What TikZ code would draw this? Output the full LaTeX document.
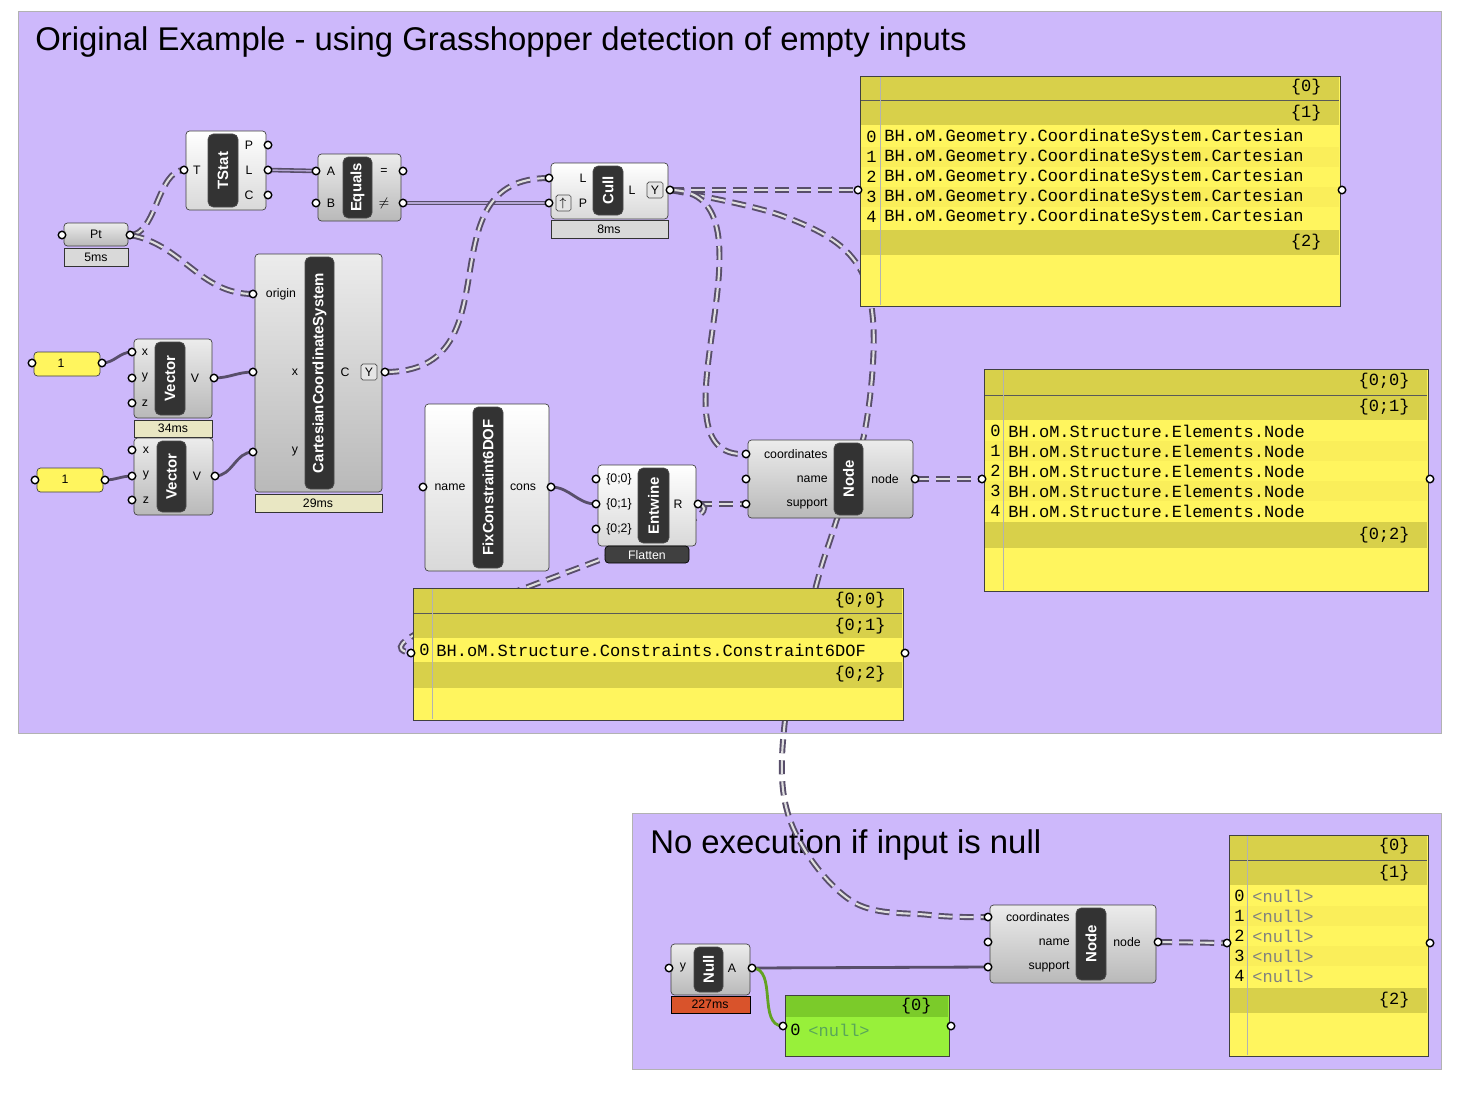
\documentclass[tikz,border=0pt]{standalone}
\usepackage{fontspec}
\setmainfont{Liberation Sans}
\newfontfamily\monofont{Liberation Mono}
\usetikzlibrary{calc}
\definecolor{grp}{HTML}{CDB8FB}
\definecolor{wirec}{HTML}{584E6A}
\definecolor{pnl}{HTML}{FFF55E}
\definecolor{pnlb}{HTML}{FAEE5A}
\definecolor{pnlh}{HTML}{D8D04A}
\definecolor{grn}{HTML}{98F03A}
\definecolor{grnh}{HTML}{7BCB2A}
\definecolor{hot}{HTML}{D9532B}
\tikzset{grpbox/.style = {fill=grp, draw=gray!60, line width=0.4pt},
         dark/.style = {rounded corners=2pt, draw=gray!50!black, top color=gray!15, bottom color=gray!55},
         light/.style = {rounded corners=2pt, draw=gray!50!black, top color=white, bottom color=gray!30},
         bar/.style = {rounded corners=3pt, fill=black!80, draw=gray!60!black},
         bartxt/.style = {rotate=90, text=white, font=\bfseries\fontsize{8.5}{9}\selectfont},
         lbl/.style = {font=\fontsize{7}{8}\selectfont, inner sep=0pt},
         tim/.style = {draw=gray!40!black, fill=gray!30, font=\fontsize{6.5}{7}\selectfont},
         port/.style = {circle, draw=black, fill=white, line width=0.8pt, inner sep=0pt, minimum size=0.15cm},
         pn/.style = {draw=gray!50!black, fill=pnl},
         ptxt/.style = {font=\monofont\fontsize{9.7}{10}\selectfont, inner sep=0pt, anchor=west},
         wire/.style = {draw=wirec, line width=1.6pt},
         lwire/.style = {draw=wirec, line width=0.9pt, double=grp!70!gray, double distance=0.8pt},
         dwire/.style = {draw=wirec, line width=1.1pt, double=gray!25, double distance=1.2pt, dash pattern=on 8pt off 4pt}}
\newcommand\barlbl[5]{\draw[bar] (#1,#2) rectangle (#3,#4); \node[bartxt] at ({(#1+#3)/2},{(#2+#4)/2}) {#5};}
\begin{document}
\begin{tikzpicture}[x=0.02cm, y=-0.02cm]
  \useasboundingbox (0,0) rectangle (1467,1105);
  % groups
  \draw[grpbox] (18,11) rectangle (1441,733);
  \node[anchor=west, font=\fontsize{18.7}{21}\selectfont, inner sep=0pt] (title1) at (35,42) {Original Example - using Grasshopper detection of empty inputs};
  \draw[grpbox] (632,813) rectangle (1441,1069);
  \node[anchor=west, font=\fontsize{18.7}{21}\selectfont, inner sep=0pt] (title2) at (650,845) {No execution if input is null};
  % ports
  \coordinate (ptO) at (130,235);   \coordinate (ptI) at (62,235);
  \coordinate (tsT) at (184,170);   \coordinate (tsP) at (268,145);
  \coordinate (tsL) at (268,170);   \coordinate (tsC) at (268,195);
  \coordinate (eqA) at (316,171);   \coordinate (eqB) at (316,203);
  \coordinate (eqE) at (403,171);   \coordinate (eqN) at (403,203);
  \coordinate (cuL) at (549,178);   \coordinate (cuP) at (549,203);
  \coordinate (cuO) at (670,190);
  \coordinate (ccO) at (253,294);   \coordinate (ccX) at (253,372);
  \coordinate (ccY) at (253,452);   \coordinate (ccC) at (385,372);
  \coordinate (v1x) at (132,352);   \coordinate (v1y) at (132,378);
  \coordinate (v1z) at (132,403);   \coordinate (v1V) at (214,378);
  \coordinate (v2x) at (132,450);   \coordinate (v2y) at (132,476);
  \coordinate (v2z) at (132,500);   \coordinate (v2V) at (215,476);
  \coordinate (s1I) at (32,363);    \coordinate (s1O) at (102,363);
  \coordinate (s2I) at (35,480);    \coordinate (s2O) at (105,480);
  \coordinate (fxN) at (423,487);   \coordinate (fxC) at (551,487);
  \coordinate (en0) at (596,479);   \coordinate (en1) at (596,504);
  \coordinate (en2) at (596,529);   \coordinate (enR) at (698,504);
  \coordinate (n1c) at (746,454);   \coordinate (n1n) at (746,479);
  \coordinate (n1s) at (746,504);   \coordinate (n1O) at (915,479);
  \coordinate (p1I) at (858,190);   \coordinate (p1O) at (1342,190);
  \coordinate (p2I) at (982,479);   \coordinate (p2O) at (1430,479);
  \coordinate (p3I) at (411,653);   \coordinate (p3O) at (905,653);
  \coordinate (nuY) at (669,968);   \coordinate (nuA) at (752,968);
  \coordinate (n2c) at (988,917);   \coordinate (n2n) at (988,942);
  \coordinate (n2s) at (988,967);   \coordinate (n2O) at (1158,942);
  \coordinate (p4I) at (1227,943);  \coordinate (p4O) at (1430,943);
  \coordinate (gpI) at (783,1026);  \coordinate (gpO) at (951,1026);
  % wires
  \draw[dwire] (cuO) plot[smooth, tension=0.6] coordinates {(cuO) (780,215) (850,255) (873,320) (865,430) (835,525) (815,590) (785,720) (790,820) (850,900) (930,915) (n2c)};
  \draw[dwire] (ptO) to[out=0, in=180, looseness=0.8] (tsT);
  \draw[dwire] (ptO) to[out=-10, in=180] (ccO);
  \draw[lwire] (tsL) -- (eqA);
  \draw[lwire] (eqN) -- (cuP);
  \draw[dwire] (ccC) .. controls (520,372) and (420,178) .. (cuL);
  \draw[wire] (s1O) to[out=0, in=180] (v1x);
  \draw[wire] (s2O) to[out=0, in=180] (v2y);
  \draw[wire] (v1V) to[out=0, in=180] (ccX);
  \draw[wire] (v2V) to[out=0, in=180] (ccY);
  \draw[dwire] (cuO) -- (p1I);
  \draw[dwire] (cuO) .. controls (790,190) and (640,460) .. (n1c);
  \draw[wire] (fxC) to[out=0, in=180] (en1);
  \draw[dwire] (enR) -- (n1s);
  \draw[dwire] (enR) .. controls (760,520) and (330,640) .. (p3I);
  \draw[dwire] (n1O) -- (p2I);
  \draw[wire] (nuA) -- (n2s);
  \draw[draw=grnh!80!black, line width=1.6pt] (nuA) to[out=0, in=180] (gpI);
  \draw[dwire] (n2O) -- (p4I);
  % Pt
  \draw[dark] (64,223) rectangle (128,246);
  \node[lbl] (pt) at (96,234) {Pt};
  \draw[tim] (64,248) rectangle (128,266); \node[lbl] at (96,257) {5ms};
  % TStat
  \draw[light] (186,131) rectangle (266,210);
  \barlbl{208}{134}{238}{207}{TStat}
  \node[lbl] at (197,170) {T};
  \node[lbl] at (249,145) {P}; \node[lbl] at (249,170) {L}; \node[lbl] at (249,195) {C};
  % Equals
  \draw[dark] (318,154) rectangle (401,221);
  \barlbl{343}{157}{372}{218}{Equals}
  \node[lbl] at (331,171) {A}; \node[lbl] at (331,203) {B};
  \node[lbl] at (384,171) {=}; \node[lbl] at (384,203) {$\neq$};
  % Cull
  \draw[light] (551,163) rectangle (668,219);
  \barlbl{593}{166}{623}{215}{Cull}
  \node[lbl] at (583,178) {L}; \node[lbl] at (583,203) {P}; \node[lbl] at (632,190) {L};
  \draw[rounded corners=1pt, draw=gray!60!black, fill=gray!20] (556,195) rectangle (571,211);
  \node[lbl] at (563,203) {$\uparrow$};
  \draw[rounded corners=1pt, draw=gray!60!black, fill=gray!20] (647,182) rectangle (663,198);
  \node[lbl] at (655,190) {Y};
  \draw[tim] (551,220) rectangle (668,238); \node[lbl] at (609,229) {8ms};
  % CartesianCoordinateSystem
  \draw[dark] (255,254) rectangle (382,492);
  \barlbl{305}{257}{334}{489}{CartesianCoordinateSystem}
  \node[lbl] at (281,294) {origin}; \node[lbl] at (295,372) {x}; \node[lbl] at (295,452) {y};
  \node[lbl] at (345,372) {C};
  \draw[rounded corners=1pt, draw=gray!60!black, fill=gray!20] (361,364) rectangle (377,380);
  \node[lbl] at (369,372) {Y};
  \draw[tim, fill=gray!20!olive!20] (255,494) rectangle (382,512); \node[lbl] at (318,503) {29ms};
  % Vectors
  \draw[dark] (134,339) rectangle (212,418);
  \barlbl{155}{342}{185}{415}{Vector}
  \node[lbl] at (145,352) {x}; \node[lbl] at (145,378) {y}; \node[lbl] at (145,403) {z};
  \node[lbl] at (195,378) {V};
  \draw[tim, fill=gray!20!olive!20] (134,420) rectangle (212,437); \node[lbl] at (173,428) {34ms};
  \draw[dark] (134,438) rectangle (213,515);
  \barlbl{157}{441}{186}{512}{Vector}
  \node[lbl] at (146,450) {x}; \node[lbl] at (146,476) {y}; \node[lbl] at (146,500) {z};
  \node[lbl] at (197,476) {V};
  % sliders
  \draw[pn, rounded corners=2pt] (34,352) rectangle (100,376); \node[lbl] (one1) at (61,363) {1};
  \draw[pn, rounded corners=2pt] (37,468) rectangle (103,492); \node[lbl] (one2) at (65,479) {1};
  % FixConstraint6DOF
  \draw[light] (425,404) rectangle (549,571);
  \barlbl{473}{407}{503}{568}{FixConstraint6DOF}
  \node[lbl] at (450,487) {name}; \node[lbl] at (523,487) {cons};
  % Entwine
  \draw[light] (598,465) rectangle (696,546);
  \barlbl{638}{468}{669}{543}{Entwine}
  \node[lbl] at (619,479) {\{0;0\}}; \node[lbl] at (619,504) {\{0;1\}}; \node[lbl] at (619,529) {\{0;2\}};
  \node[lbl] at (678,504) {R};
  \draw[rounded corners=2pt, fill=black!75] (605,546) rectangle (689,563);
  \node[lbl, text=white] at (647,555) {Flatten};
  % Node 1
  \draw[dark] (748,440) rectangle (913,518);
  \barlbl{834}{443}{863}{515}{Node}
  \node[lbl, anchor=east] at (828,454) {coordinates};
  \node[lbl, anchor=east] at (828,479) {name};
  \node[lbl, anchor=east] at (828,504) {support};
  \node[lbl] at (885,479) {node};
  % Node 2
  \draw[dark] (990,905) rectangle (1156,983);
  \barlbl{1076}{908}{1106}{980}{Node}
  \node[lbl, anchor=east] at (1070,917) {coordinates};
  \node[lbl, anchor=east] at (1070,942) {name};
  \node[lbl, anchor=east] at (1070,967) {support};
  \node[lbl] at (1127,942) {node};
  % Null
  \draw[dark] (671,944) rectangle (750,995);
  \barlbl{694}{947}{723}{992}{Null}
  \node[lbl] at (683,968) {y}; \node[lbl] at (732,968) {A};
  \draw[draw=black, fill=hot] (671,996) rectangle (750,1013);
  \node[lbl] at (710,1004) {227ms};
  % panel 1
  \draw[pn] (860,76) rectangle (1340,306);
  \fill[pnlh] (861,77) rectangle (1339,125);
  \draw[gray!70!black, line width=0.3pt] (861,100) -- (1339,100);
  \fill[pnlh] (861,230) rectangle (1339,255);
  \foreach \i in {0,...,4} {
    \pgfmathsetmacro\yy{137+20*\i}
    \ifodd\i \fill[pnlb] (861,\yy-10) rectangle (1339,\yy+10); \fi
    \node[ptxt] at (866,\yy) {\i};
    \node[ptxt] at (884,\yy) {BH.oM.Geometry.CoordinateSystem.Cartesian};
  }
  \draw[gray!60, line width=0.3pt] (880,77) -- (880,305);
  \node[ptxt, anchor=east] at (1322,87) {\{0\}};
  \node[ptxt, anchor=east] at (1322,113) {\{1\}};
  \node[ptxt, anchor=east] at (1322,242) {\{2\}};
  % panel 2
  \draw[pn] (984,369) rectangle (1428,591);
  \fill[pnlh] (985,370) rectangle (1427,420);
  \draw[gray!70!black, line width=0.3pt] (985,395) -- (1427,395);
  \fill[pnlh] (985,522) rectangle (1427,548);
  \foreach \i in {0,...,4} {
    \pgfmathsetmacro\yy{431+20*\i}
    \ifodd\i \fill[pnlb] (985,\yy-10) rectangle (1427,\yy+10); \fi
    \node[ptxt] at (990,\yy) {\i};
    \node[ptxt] at (1008,\yy) {BH.oM.Structure.Elements.Node};
  }
  \draw[gray!60, line width=0.3pt] (1003,370) -- (1003,590);
  \node[ptxt, anchor=east] at (1410,381) {\{0;0\}};
  \node[ptxt, anchor=east] at (1410,407) {\{0;1\}};
  \node[ptxt, anchor=east] at (1410,535) {\{0;2\}};
  % panel 3
  \draw[pn] (413,588) rectangle (903,720);
  \fill[pnlh] (414,589) rectangle (902,638);
  \draw[gray!70!black, line width=0.3pt] (414,613) -- (902,613);
  \fill[pnlh] (414,662) rectangle (902,688);
  \draw[gray!60, line width=0.3pt] (432,589) -- (432,719);
  \node[ptxt] at (419,650) {0};
  \node[ptxt] at (436,650) {BH.oM.Structure.Constraints.Constraint6DOF};
  \node[ptxt, anchor=east] at (886,600) {\{0;0\}};
  \node[ptxt, anchor=east] at (886,626) {\{0;1\}};
  \node[ptxt, anchor=east] at (886,674) {\{0;2\}};
  % panel 4
  \draw[pn] (1229,835) rectangle (1428,1056);
  \fill[pnlh] (1230,836) rectangle (1427,885);
  \draw[gray!70!black, line width=0.3pt] (1230,860) -- (1427,860);
  \fill[pnlh] (1230,988) rectangle (1427,1013);
  \foreach \i in {0,...,4} {
    \pgfmathsetmacro\yy{896+20*\i}
    \ifodd\i \fill[pnlb] (1230,\yy-10) rectangle (1427,\yy+10); \fi
    \node[ptxt] at (1234,\yy) {\i};
    \node[ptxt, text=gray] at (1252,\yy) {<null>};
  }
  \draw[gray!60, line width=0.3pt] (1247,836) -- (1247,1055);
  \node[ptxt, anchor=east] at (1410,846) {\{0\}};
  \node[ptxt, anchor=east] at (1410,873) {\{1\}};
  \node[ptxt, anchor=east] at (1410,1000) {\{2\}};
  % green panel
  \draw[draw=gray!50!black, fill=grn] (785,995) rectangle (949,1056);
  \fill[grnh] (786,996) rectangle (948,1017);
  \node[ptxt] at (790,1030) {0};
  \node[ptxt, text=gray!70!green] at (808,1030) {<null>};
  \node[ptxt, anchor=east] at (932,1006) {\{0\}};
  % port circles
  \foreach \p in {ptO,ptI,tsT,tsP,tsL,tsC,eqA,eqB,eqE,eqN,cuL,cuP,cuO,ccO,ccX,ccY,ccC,
                  v1x,v1y,v1z,v1V,v2x,v2y,v2z,v2V,s1I,s1O,s2I,s2O,fxN,fxC,en0,en1,en2,enR,
                  n1c,n1n,n1s,n1O,p1I,p1O,p2I,p2O,p3I,p3O,nuY,nuA,n2c,n2n,n2s,n2O,p4I,p4O,gpI,gpO}
    \node[port] at (\p) {};
\end{tikzpicture}
\end{document}
